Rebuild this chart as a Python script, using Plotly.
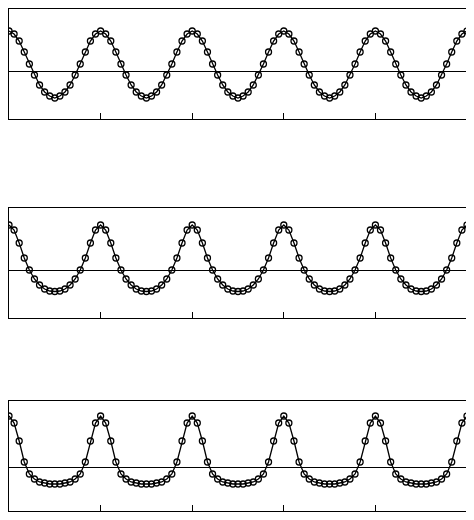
import plotly.graph_objects as go

x_vals = [i / 18 for i in range(91)]

wave1 = [40,37,30,19,7,-4,-14,-21,-25,-27,-25,-21,-14,-4,7,19,30,37,
         40,37,30,19,7,-4,-14,-21,-25,-27,-25,-21,-14,-4,7,19,30,37,
         40,37,30,19,7,-4,-14,-21,-25,-27,-25,-21,-14,-4,7,19,30,37,
         40,37,30,19,7,-4,-14,-21,-25,-27,-25,-21,-14,-4,7,19,30,37,
         40,37,30,19,7,-4,-14,-21,-25,-27,-25,-21,-14,-4,7,19,30,37,
         40]
wave2 = [45,40,27,12,0,-9,-15,-19,-21,-21.5,-21,-19,-15,-9,0,12,27,40,
         45,40,27,12,0,-9,-15,-19,-21,-21.5,-21,-19,-15,-9,0,12,27,40,
         45,40,27,12,0,-9,-15,-19,-21,-21.5,-21,-19,-15,-9,0,12,27,40,
         45,40,27,12,0,-9,-15,-19,-21,-21.5,-21,-19,-15,-9,0,12,27,40,
         45,40,27,12,0,-9,-15,-19,-21,-21.5,-21,-19,-15,-9,0,12,27,40,
         45]
wave3 = [51,44,26,5,-7,-12,-15,-16,-17,-17,-17,-16,-15,-12,-7,5,26,44,
         51,44,26,5,-7,-12,-15,-16,-17,-17,-17,-16,-15,-12,-7,5,26,44,
         51,44,26,5,-7,-12,-15,-16,-17,-17,-17,-16,-15,-12,-7,5,26,44,
         51,44,26,5,-7,-12,-15,-16,-17,-17,-17,-16,-15,-12,-7,5,26,44,
         51,44,26,5,-7,-12,-15,-16,-17,-17,-17,-16,-15,-12,-7,5,26,44,
         51]
tick_vals = [1, 2, 3, 4]

W, H = 474, 520
OFF = 7
panels = [(wave1, 8, 118, [-48, 62]), (wave2, 207, 317, [-48, 62]), (wave3, 400, 510, [-44, 66])]

fig = go.Figure()
for i, (w, top, bot, yr) in enumerate(panels):
    n = "" if i == 0 else str(i + 1)
    fig.add_trace(go.Scatter(x=x_vals, y=w, mode="lines+markers", xaxis="x" + n, yaxis="y" + n,
                             line=dict(color="black", width=1.3),
                             marker=dict(symbol="circle-open", size=6, color="black", line=dict(width=1.3)),
                             showlegend=False))
    dom = [1 - (bot - OFF) / H, 1 - (top - OFF) / H]
    fig.update_layout(**{
        "xaxis" + n: dict(domain=[(8 - OFF) / W, (466 - OFF) / W], range=[0, 5], showgrid=False, zeroline=False,
                          showline=True, linecolor="black", linewidth=1.2, mirror=True,
                          ticks="inside", ticklen=6, tickcolor="black", tickvals=tick_vals,
                          showticklabels=False, anchor="y" + n),
        "yaxis" + n: dict(domain=dom, range=yr, showgrid=False, zeroline=True, zerolinecolor="black",
                          zerolinewidth=1.2, showline=True, linecolor="black", linewidth=1.2, mirror=True,
                          showticklabels=False, ticks="", anchor="x" + n),
    })

fig.update_layout(width=W, height=H, margin=dict(l=0, r=0, t=0, b=0),
                  paper_bgcolor="white", plot_bgcolor="white")
fig.write_html("out.html")
